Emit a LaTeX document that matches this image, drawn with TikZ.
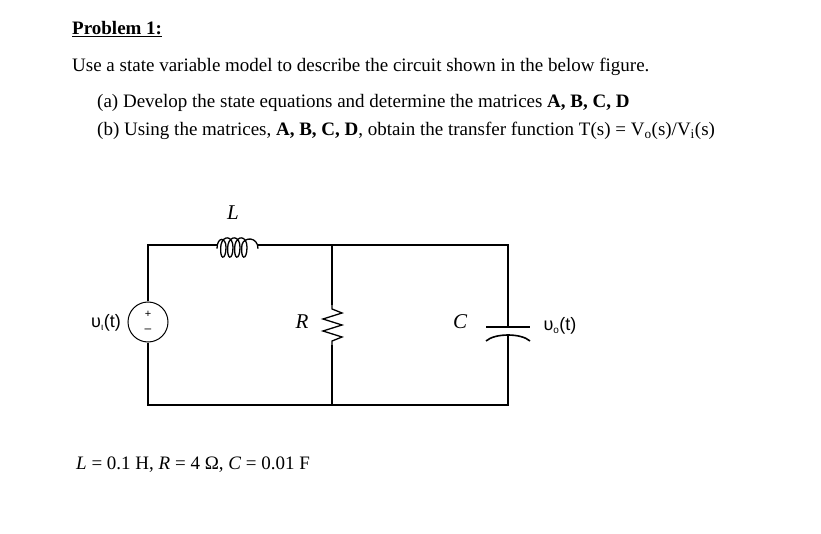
\documentclass[tikz,border=0pt]{standalone}
\usepackage{fontspec}
\setmainfont{Liberation Serif}
\newfontfamily\sff{Liberation Sans}
\begin{document}
\begin{tikzpicture}[x=1pt,y=-1pt,
  txt/.style={anchor=west,inner sep=0pt,font=\fontsize{19}{22}\selectfont},
  lab/.style={inner sep=0pt,font=\fontsize{21}{24}\selectfont\itshape},
  sans/.style={inner sep=0pt,font=\sff\fontsize{18}{21}\selectfont},
  wire/.style={line width=1.4pt}]
\useasboundingbox (0,0) rectangle (821,534);
\node[txt] (t0) at (72,29) {\underline{\textbf{Problem 1:}}};
\node[txt] (t1) at (72,67) {Use a state variable model to describe the circuit shown in the below figure.};
\node[txt] (t2) at (97,103) {(a) Develop the state equations and determine the matrices \textbf{A, B, C, D}};
\node[txt] (t3) at (97,131) {(b) Using the matrices, \textbf{A, B, C, D}, obtain the transfer function T(s) = V\textsubscript{o}(s)/V\textsubscript{i}(s)};
% nodes
\coordinate (tl) at (148,245);
\coordinate (bl) at (148,405);
\coordinate (tm) at (332,245);
\coordinate (bm) at (332,405);
\coordinate (tr) at (508,245);
\coordinate (br) at (508,405);
\coordinate (la) at (203,245);
\coordinate (lb) at (269,245);
\node[circle,draw,line width=1pt,minimum size=40pt,inner sep=0pt] (src) at (148,322) {};
\node[inner sep=0pt,font=\sff\fontsize{11}{11}\selectfont] at (148,314) {+};
\node[inner sep=0pt,font=\sff\fontsize{12}{12}\selectfont] at (148,331) {–};
\coordinate (ra) at (332,305);
\coordinate (rb) at (332,345);
\coordinate (ca) at (508,327);
\coordinate (cb) at (508,335);
\draw[wire] (src.north) -- (tl) -- (la) -- ++(14,0);
\draw[wire] (lb) ++(-11,0) -- (lb) -- (tm) -- (tr) -- (ca);
\draw[wire] (src.south) -- (bl) -- (bm) -- (br) -- (cb);
\draw[wire] (tm) -- (ra);
\draw[wire] (rb) -- (bm);
% inductor
\begin{scope}[yshift=-3pt,yscale=1.35,shift={(0,-63)}]
\draw[line width=1.3pt] (217,245) .. controls (217,236) and (226,236) .. (226,244)
  .. controls (226,254) and (219,254) .. (221,242)
  .. controls (223,235) and (233,235) .. (233,244)
  .. controls (233,254) and (226,254) .. (228,242)
  .. controls (230,235) and (240,235) .. (240,244)
  .. controls (240,254) and (233,254) .. (235,242)
  .. controls (237,235) and (247,235) .. (247,244)
  .. controls (247,254) and (240,254) .. (242,242)
  .. controls (244,236) and (258,236) .. (258,245);
\end{scope}
% resistor
\draw[line width=1.3pt] (ra) -- (332,309) -- (342,313) -- (323,319) -- (342,325) -- (323,331) -- (342,337) -- (332,341) -- (rb);
% capacitor
\draw[line width=1.6pt] (486,327) -- (530,327);
\draw[line width=1.6pt] (486,341) .. controls (495,333) and (521,333) .. (530,341);
% labels
\node[lab] at (233,213) {L};
\node[lab] at (302,322) {R};
\node[lab] at (460,322) {C};
\node[sans] at (106,323) {υ\textsubscript{\fontsize{10}{10}\selectfont ι}(t)};
\node[sans] at (560,326) {υ\textsubscript{\fontsize{10}{10}\selectfont o}(t)};
\node[txt] (t4) at (76,465) {\textit{L} = 0.1 H, \textit{R} = 4 Ω, \textit{C} = 0.01 F};
\end{tikzpicture}
\end{document}
